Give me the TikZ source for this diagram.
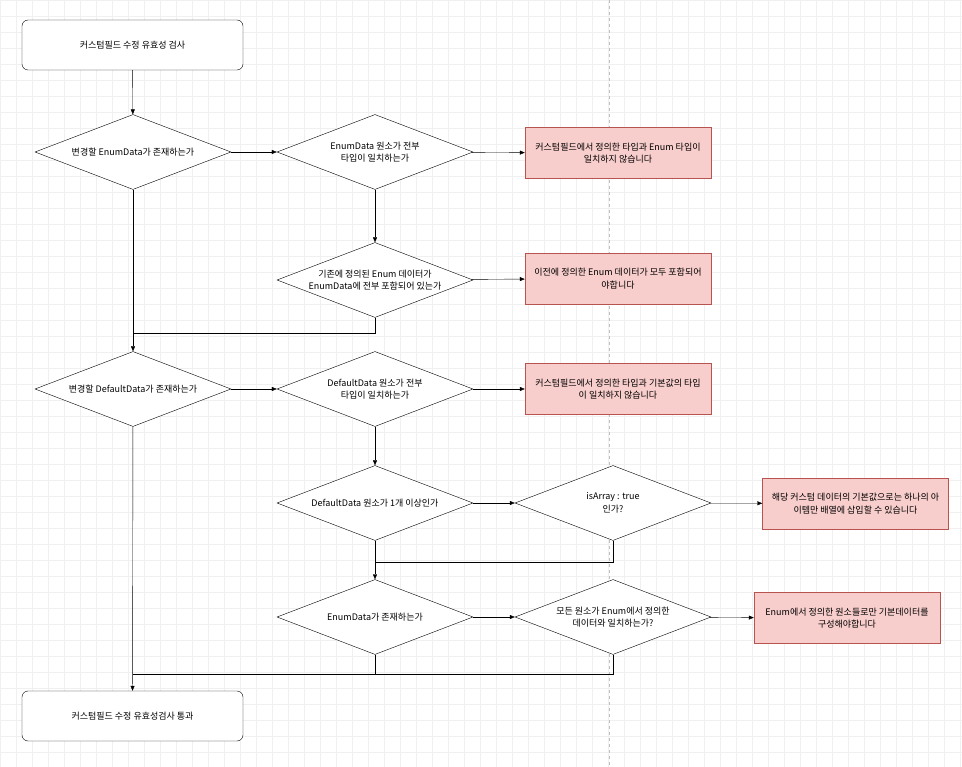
\documentclass[tikz,border=0pt]{standalone}
\usepackage{fontspec}
\setmainfont{Noto Sans CJK KR}
\usetikzlibrary{shapes.geometric,arrows.meta}
\definecolor{errfill}{HTML}{F8CECC}
\definecolor{errdraw}{HTML}{B85450}
\begin{document}
\begin{tikzpicture}[x=1pt,y=-1pt,
  every node/.style={font=\fontsize{9}{12.5}\selectfont,align=center},
  term/.style={draw,rounded corners=6pt,minimum width=221pt,minimum height=50pt,fill=white},
  dec/.style={draw,diamond,aspect=2.6,inner sep=0pt,minimum width=196pt,minimum height=75pt,fill=white},
  err/.style={draw=errdraw,fill=errfill,minimum width=186pt,minimum height=51pt},
  arr/.style={-{Triangle[length=5pt,width=4pt]}}]
\useasboundingbox (0,0) rectangle (962,767);
\fill[white] (0,0) rectangle (962,767);
\foreach \i in {0,16,...,962} \draw[black!6,line width=0.4pt] (\i,0) -- (\i,767);
\foreach \j in {0,16,...,767} \draw[black!6,line width=0.4pt] (0,\j) -- (962,\j);
\draw[black!25,dashed,line width=0.6pt] (609,0) -- (609,767);
\node[term] (s) at (132.5,45) {커스텀필드 수정 유효성 검사};
\node[dec] (d1) at (133,152) {변경할 EnumData가 존재하는가};
\node[dec] (d2) at (375,152) {EnumData 원소가 전부\\타입이 일치하는가};
\node[err] (r1) at (618,153) {커스텀필드에서 정의한 타입과 Enum 타입이\\일치하지 않습니다};
\node[dec] (d3) at (375,280) {기존에 정의된 Enum 데이터가\\EnumData에 전부 포함되어 있는가};
\node[err] (r2) at (618,278.5) {이전에 정의한 Enum 데이터가 모두 포함되어\\야합니다};
\node[dec] (d4) at (133,389) {변경할 DefaultData가 존재하는가};
\node[dec] (d5) at (375,389) {DefaultData 원소가 전부\\타입이 일치하는가};
\node[err] (r3) at (618,389) {커스텀필드에서 정의한 타입과 기본값의 타입\\이 일치하지 않습니다};
\node[dec] (d6) at (375,503) {DefaultData 원소가 1개 이상인가};
\node[dec] (d7) at (613,503) {isArray : true\\인가?};
\node[err] (r4) at (855.5,503.5) {해당 커스텀 데이터의 기본값으로는 하나의 아\\이템만 배열에 삽입할 수 있습니다};
\node[dec] (d8) at (375,617) {EnumData가 존재하는가};
\node[dec] (d9) at (613,617) {모든 원소가 Enum에서 정의한\\데이터와 일치하는가?};
\node[err] (r5) at (847,618) {Enum에서 정의한 원소들로만 기본데이터를\\구성해야합니다};
\node[term] (e) at (132.5,716) {커스텀필드 수정 유효성검사 통과};
\coordinate (j1) at (133,333);
\coordinate (j2) at (375,562);
\coordinate (j3) at (133,674);
\coordinate (j4) at (375,674);
\draw[arr] (s) -- (d1);
\draw[arr] (d1) -- (d2);
\draw[arr] (d2) -- (r1);
\draw[arr] (d2) -- (d3);
\draw[arr] (d3) -- (r2);
\draw (d3.south) |- (j1);
\draw[arr] (d1) -- (d4);
\draw[arr] (d4) -- (d5);
\draw[arr] (d5) -- (r3);
\draw[arr] (d5) -- (d6);
\draw[arr] (d6) -- (d7);
\draw[arr] (d7) -- (r4);
\draw (d7.south) |- (j2);
\draw[arr] (d6) -- (d8);
\draw[arr] (d8) -- (d9);
\draw[arr] (d9) -- (r5);
\draw (d8.south) |- (j3);
\draw (d9.south) |- (j4);
\draw[arr] (d4) -- (e);
\end{tikzpicture}
\end{document}
